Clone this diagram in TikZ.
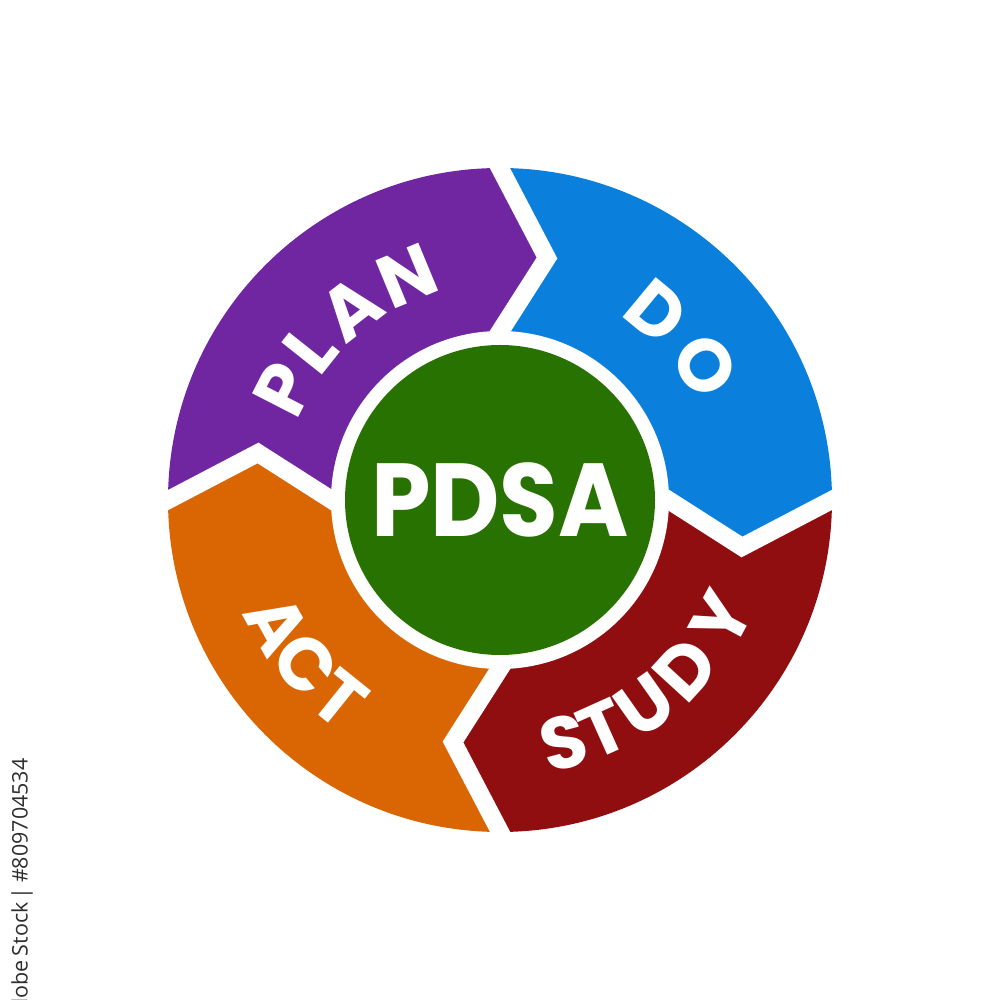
\documentclass[tikz,border=0pt]{standalone}
\usepackage{fontspec}
\newfontfamily\pop{Poppins}
\newfontfamily\osans{Open Sans}
\definecolor{cPlan}{RGB}{112,38,160}
\definecolor{cDo}{RGB}{10,128,220}
\definecolor{cStudy}{RGB}{144,14,16}
\definecolor{cAct}{RGB}{217,102,2}
\definecolor{cPdsa}{RGB}{40,114,2}
\definecolor{idgray}{RGB}{45,45,45}
\begin{document}
\begin{tikzpicture}[x=0.01cm,y=0.01cm,
  gap/.style={draw=white,line width=5.1pt,line join=miter,miter limit=10},
  lettr/.style={text=white,font=\pop\bfseries\fontsize{21}{21}\selectfont,inner sep=0pt,anchor=center},
  bigtxt/.style={text=white,font=\pop\bfseries\fontsize{29.5}{29.5}\selectfont,inner sep=0pt,anchor=center,xscale=0.92}]
\useasboundingbox[fill=white] (0,0) rectangle (1000,1000);
\begin{scope}[shift={(500,500)}]
  \begin{scope}
    \clip (0,0) circle (332);
    \foreach \rot/\col in {0/cPlan,-90/cDo,-180/cStudy,-270/cAct}{
      \fill[\col, rotate=\rot] (0,0) -- (0,168) -- (47,242) -- (-20,370) -- (-400,400)
        -- (-370,-20) -- (-242,47) -- (-168,0) -- cycle;
    }
  \end{scope}
  \foreach \rot in {0,-90,-180,-270}
    \draw[gap, rotate=\rot] (-6,159) -- (47,242) -- (-20,370);
  \fill[white] (0,0) circle (169);
  \fill[cPdsa] (0,0) circle (155);
  \node[bigtxt] (pdsa) at (0,0) {PDSA};
  % PLAN
  \foreach \ch/\ang [count=\i] in {P/152.8,L/141.5,A/127.8,N/112.5}
    \node[lettr, rotate=\ang-90] (plan\i) at (\ang:243) {\ch};
  % DO
  \foreach \ch/\ang [count=\i] in {D/50.3,O/33.2}
    \node[lettr, rotate=\ang-90] (do\i) at (\ang:245) {\ch};
  % STUDY
  \foreach \ch/\ang [count=\i] in {S/-75.3,T/-65.8,U/-54.8,D/-42.5,Y/-28.3}
    \node[lettr, rotate=\ang+90] (study\i) at (\ang:251) {\ch};
  % ACT
  \foreach \ch/\ang [count=\i] in {A/209.2,C/220.2,T/231.2}
    \node[lettr, rotate=\ang+90] (act\i) at (\ang:255) {\ch};
\end{scope}
\node[rotate=90, anchor=east, text=idgray, inner sep=0pt,
  font=\osans\fontsize{6.1}{6.1}\selectfont] (stockid) at (22,242)
  {Adobe\hspace{0.2em}Stock\hspace{0.15em}|\hspace{0.2em}\#809704534};
\end{tikzpicture}
\end{document}
